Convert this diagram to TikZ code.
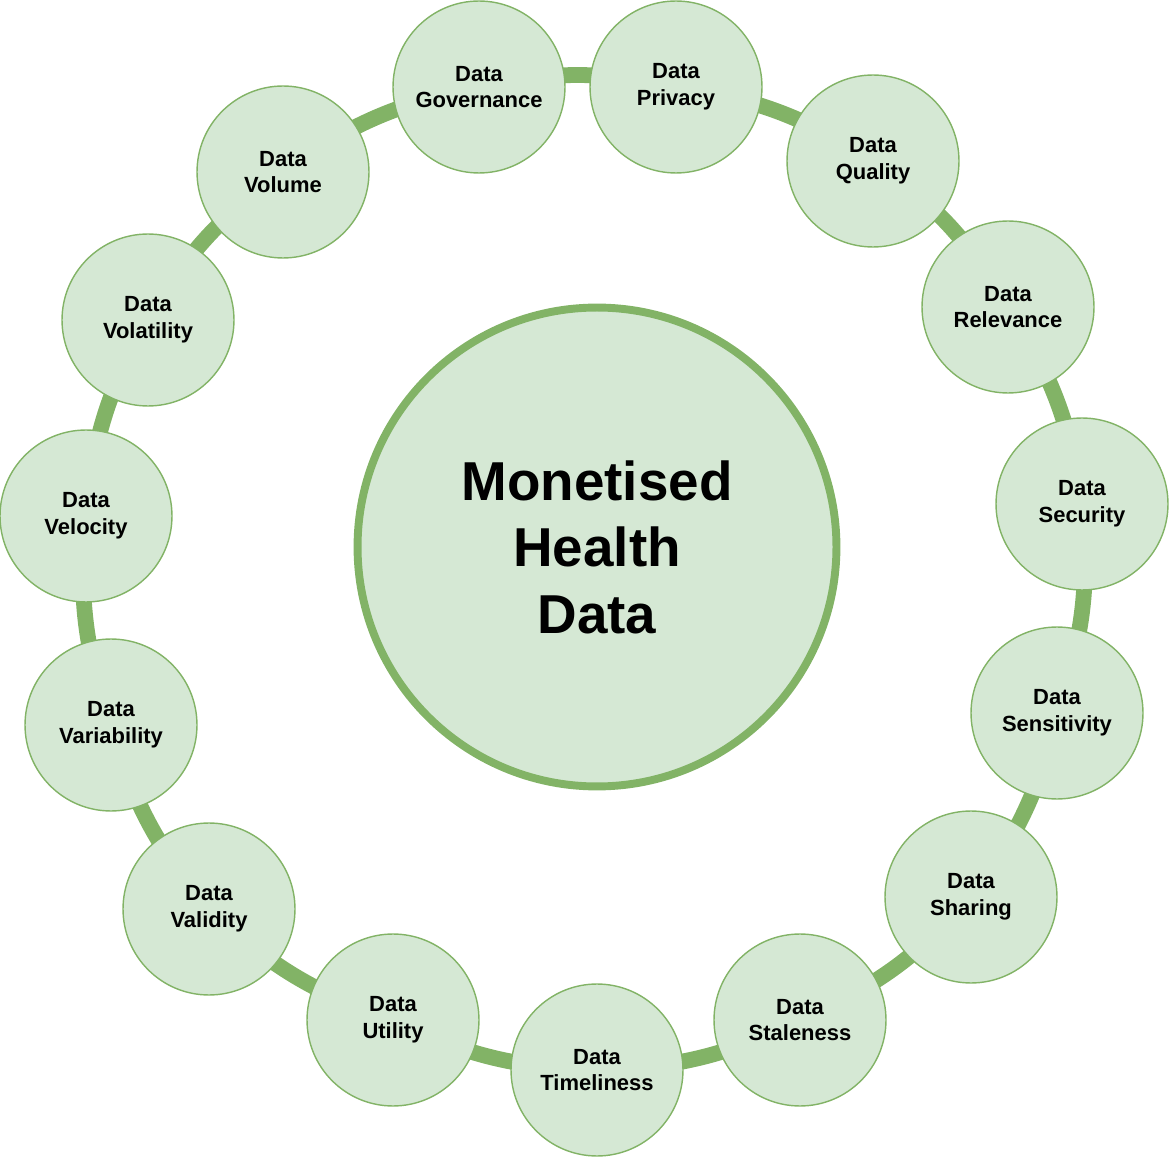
\documentclass[tikz,border=0pt]{standalone}
\usepackage{fontspec}
\setmainfont{Liberation Sans}
\usepackage{xcolor}
\usepackage{tikz}
\usetikzlibrary{backgrounds}
\definecolor{ringgreen}{HTML}{82B366}
\definecolor{ringfill}{HTML}{D5E8D4}
\tikzset{
    hub/.style={circle, draw=ringgreen, line width=4.5pt, fill=ringfill, minimum size=9.58cm, inner sep=0pt, align=center, font=\fontsize{31.2}{37.8}\selectfont\bfseries},
    item/.style={circle, draw=ringgreen, line width=0.8pt, fill=ringfill, minimum size=3.44cm, inner sep=0pt, align=center, font=\fontsize{12.5}{15.3}\selectfont\bfseries},
    link/.style={ringgreen, line width=9pt, bend left=12}
}

\begin{document}
\begin{tikzpicture}[x=0.02cm, y=-0.02cm]
    \useasboundingbox (0,0) rectangle (1170,1158);
    % Centre
    \node[hub] (hub) at (597,547) {Monetised\\Health\\Data};
    % Outer ring, clockwise from the top
    \node[item] (gov) at (479,87) {Data\\Governance};
    \node[item] (priv) at (676,87) {Data\\Privacy};
    \node[item] (qual) at (873,161) {Data\\Quality};
    \node[item] (rel) at (1008,307) {Data\\Relevance};
    \node[item] (sec) at (1082,504) {Data\\Security};
    \node[item] (sens) at (1057,713) {Data\\Sensitivity};
    \node[item] (shar) at (971,897) {Data\\Sharing};
    \node[item] (stal) at (800,1020) {Data\\Staleness};
    \node[item] (time) at (597,1070) {Data\\Timeliness};
    \node[item] (util) at (393,1020) {Data\\Utility};
    \node[item] (vald) at (209,909) {Data\\Validity};
    \node[item] (vari) at (111,725) {Data\\Variability};
    \node[item] (velo) at (86,516) {Data\\Velocity};
    \node[item] (vola) at (148,320) {Data\\Volatility};
    \node[item] (volu) at (283,172) {Data\\Volume};
    % Ring links, centre to centre behind the circles
    \begin{scope}[on background layer]
        \draw[link] (gov.center) to (priv.center);
        \draw[link] (priv.center) to (qual.center);
        \draw[link] (qual.center) to (rel.center);
        \draw[link] (rel.center) to (sec.center);
        \draw[link] (sec.center) to (sens.center);
        \draw[link] (sens.center) to (shar.center);
        \draw[link] (shar.center) to (stal.center);
        \draw[link] (stal.center) to (time.center);
        \draw[link] (time.center) to (util.center);
        \draw[link] (util.center) to (vald.center);
        \draw[link] (vald.center) to (vari.center);
        \draw[link] (vari.center) to (velo.center);
        \draw[link] (velo.center) to (vola.center);
        \draw[link] (vola.center) to (volu.center);
        \draw[link] (volu.center) to (gov.center);
    \end{scope}
\end{tikzpicture}
\end{document}
